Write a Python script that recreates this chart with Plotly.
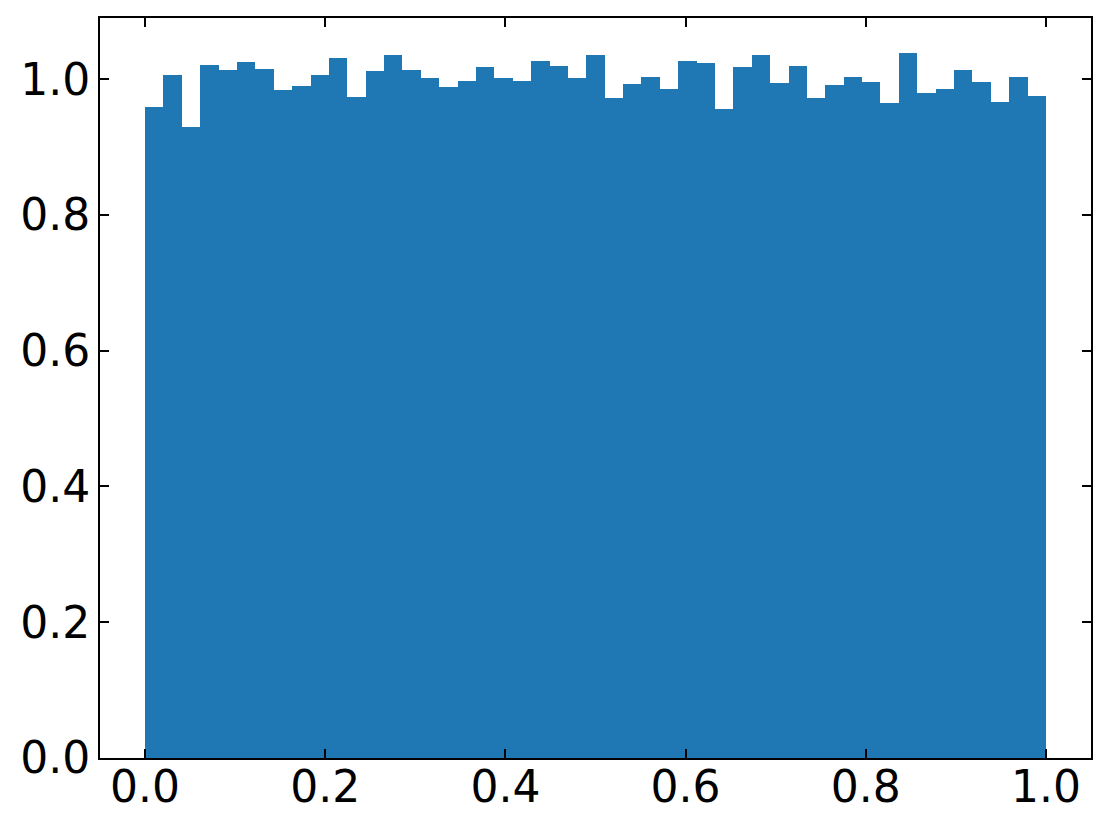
import plotly.graph_objects as go

# density histogram, 49 equal bins over [0, 1]
bin_edges_lo = 0.0
bin_edges_hi = 1.0
densities = [
    0.959, 1.006, 0.929, 1.021, 1.013, 1.025, 1.015, 0.984, 0.990, 1.006,
    1.031, 0.974, 1.012, 1.035, 1.013, 1.002, 0.988, 0.997, 1.018, 1.002,
    0.997, 1.027, 1.019, 1.002, 1.035, 0.972, 0.993, 1.004, 0.985, 1.027,
    1.024, 0.956, 1.018, 1.035, 0.994, 1.019, 0.972, 0.991, 1.003, 0.996,
    0.965, 1.038, 0.979, 0.985, 1.013, 0.996, 0.966, 1.003, 0.975,
]
tick_vals = [0.0, 0.2, 0.4, 0.6, 0.8, 1.0]

n = len(densities)
width = (bin_edges_hi - bin_edges_lo) / n
centers = [bin_edges_lo + (i + 0.5) * width for i in range(n)]

fig = go.Figure(go.Bar(
    x=centers, y=densities, width=width,
    marker=dict(color="#1f77b4", line=dict(width=0)),
))

axis_style = dict(
    showgrid=False, zeroline=False, automargin=False,
    showline=True, linecolor="black", linewidth=2, mirror="allticks",
    ticks="inside", ticklen=9, tickwidth=2, tickcolor="black",
    tickvals=tick_vals, tickformat=".1f",
    tickfont=dict(family="DejaVu Sans", size=44, color="black"),
)

fig.update_layout(
    width=1112, height=831,
    margin=dict(l=100, r=21, t=18, b=73),
    plot_bgcolor="white", paper_bgcolor="white",
    showlegend=False, bargap=0,
)
fig.update_xaxes(range=[-0.05, 1.05], ticklabelstandoff=-11, **axis_style)
fig.update_yaxes(range=[0, 1.0902], ticklabelstandoff=-1, **axis_style)

# drop the default page margin so the figure sits at the window's corner
fig.write_html(
    "out.html",
    config={"displayModeBar": False},
    post_script="document.body.style.margin='0';document.body.style.overflow='hidden';",
)
